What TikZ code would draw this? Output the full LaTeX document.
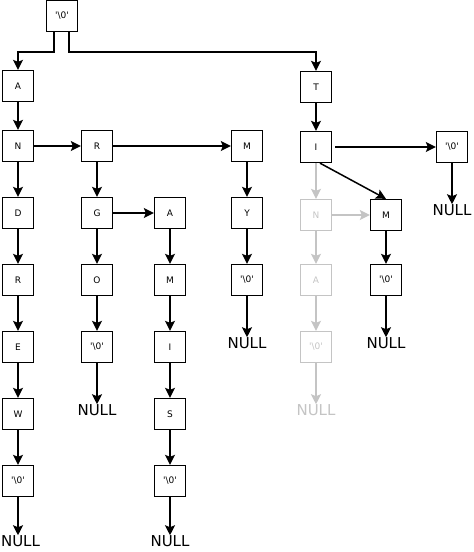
\documentclass[tikz,border=0pt]{standalone}
\usepackage{fontspec}
\setmainfont{DejaVu Sans}
\usetikzlibrary{arrows.meta}

\definecolor{customgray}{HTML}{C4C4C4}
\newcommand{\eos}{\textquotesingle\textbackslash 0\textquotesingle}

\begin{document}
\begin{tikzpicture}[x=1pt, y=-1pt]
  \tikzset{
    box_node/.style={rectangle, draw, line width=1.3pt, minimum size=31pt, inner sep=0pt, font=\fontsize{9}{10}\selectfont},
    null_node/.style={inner sep=0pt, font=\fontsize{15}{17}\selectfont},
    link/.style={line width=1.5pt, -{Stealth[length=10pt, width=10pt, inset=2pt]}},
    gray_node/.style={box_node, draw=customgray, text=customgray},
    gray_link/.style={link, draw=customgray, color=customgray}
  }

  \useasboundingbox (0,0) rectangle (474,552);

  % Raíz
  \node[box_node] (root) at (62,16) {\eos};

  % Rama A-N-D-R-E-W
  \node[box_node] (a_1) at (18,86) {A};
  \node[box_node] (n_1) at (18,146) {N};
  \node[box_node] (d) at (18,213) {D};
  \node[box_node] (r_1) at (18,280) {R};
  \node[box_node] (e) at (18,347) {E};
  \node[box_node] (w) at (18,414) {W};
  \node[box_node] (end_1) at (18,481) {\eos};
  \node[null_node] (null_1) at (20.5,541) {NULL};

  % Rama R-G-O
  \node[box_node] (r_2) at (97,146) {R};
  \node[box_node] (g) at (97,213) {G};
  \node[box_node] (o) at (97,280) {O};
  \node[box_node] (end_2) at (97,347) {\eos};
  \node[null_node] (null_2) at (97,410) {NULL};

  % Rama A-M-I-S
  \node[box_node] (a_2) at (170,213) {A};
  \node[box_node] (m_1) at (170,280) {M};
  \node[box_node] (i_1) at (170,347) {I};
  \node[box_node] (s) at (170,414) {S};
  \node[box_node] (end_3) at (170,481) {\eos};
  \node[null_node] (null_3) at (170,541) {NULL};

  % Rama M-Y
  \node[box_node] (m_2) at (247,146) {M};
  \node[box_node] (y) at (247,213) {Y};
  \node[box_node] (end_4) at (247,280) {\eos};
  \node[null_node] (null_4) at (247,343) {NULL};

  % Rama T-I
  \node[box_node] (t) at (316,87) {T};
  \node[box_node] (i_2) at (316,147) {I};
  \node[box_node] (m_3) at (386,215) {M};
  \node[box_node] (end_6) at (386,280) {\eos};
  \node[null_node] (null_6) at (386,343) {NULL};
  \node[box_node] (end_7) at (452,147) {\eos};
  \node[null_node] (null_7) at (452,210) {NULL};

  % Nodos eliminados (gris)
  \node[gray_node] (n_2) at (316,215) {N};
  \node[gray_node] (a_3) at (316,280) {A};
  \node[gray_node] (end_5) at (316,347) {\eos};
  \node[null_node, text=customgray] (null_5) at (316,410) {NULL};

  % Conexiones de la raíz
  \draw[link] ([xshift=-8pt]root.south) -- ++(0,20) -| (a_1);
  \draw[link] ([xshift=7pt]root.south) -- ++(0,20) -| (t);

  % Enlaces verticales
  \draw[link] (a_1) -- (n_1);
  \draw[link] (n_1) -- (d);
  \draw[link] (d) -- (r_1);
  \draw[link] (r_1) -- (e);
  \draw[link] (e) -- (w);
  \draw[link] (w) -- (end_1);
  \draw[link] (end_1) -- (end_1 |- null_1.north);
  \draw[link] (r_2) -- (g);
  \draw[link] (g) -- (o);
  \draw[link] (o) -- (end_2);
  \draw[link] (end_2) -- (null_2);
  \draw[link] (a_2) -- (m_1);
  \draw[link] (m_1) -- (i_1);
  \draw[link] (i_1) -- (s);
  \draw[link] (s) -- (end_3);
  \draw[link] (end_3) -- (null_3);
  \draw[link] (m_2) -- (y);
  \draw[link] (y) -- (end_4);
  \draw[link] (end_4) -- (null_4);
  \draw[link] (t) -- (i_2);
  \draw[link] (m_3) -- (end_6);
  \draw[link] (end_6) -- (null_6);
  \draw[link] (end_7) -- (null_7);

  % Enlaces horizontales
  \draw[link] (n_1) -- (r_2);
  \draw[link] (r_2) -- (m_2);
  \draw[link] (g) -- (a_2);
  \draw[link] ([xshift=3pt]i_2.east) -- (end_7);
  \draw[link] ([xshift=4pt]i_2.south) -- (m_3.north);

  % Enlaces eliminados
  \draw[gray_link] (i_2) -- (n_2);
  \draw[gray_link] (n_2) -- (m_3);
  \draw[gray_link] (n_2) -- (a_3);
  \draw[gray_link] (a_3) -- (end_5);
  \draw[gray_link] (end_5) -- (null_5);
\end{tikzpicture}
\end{document}
